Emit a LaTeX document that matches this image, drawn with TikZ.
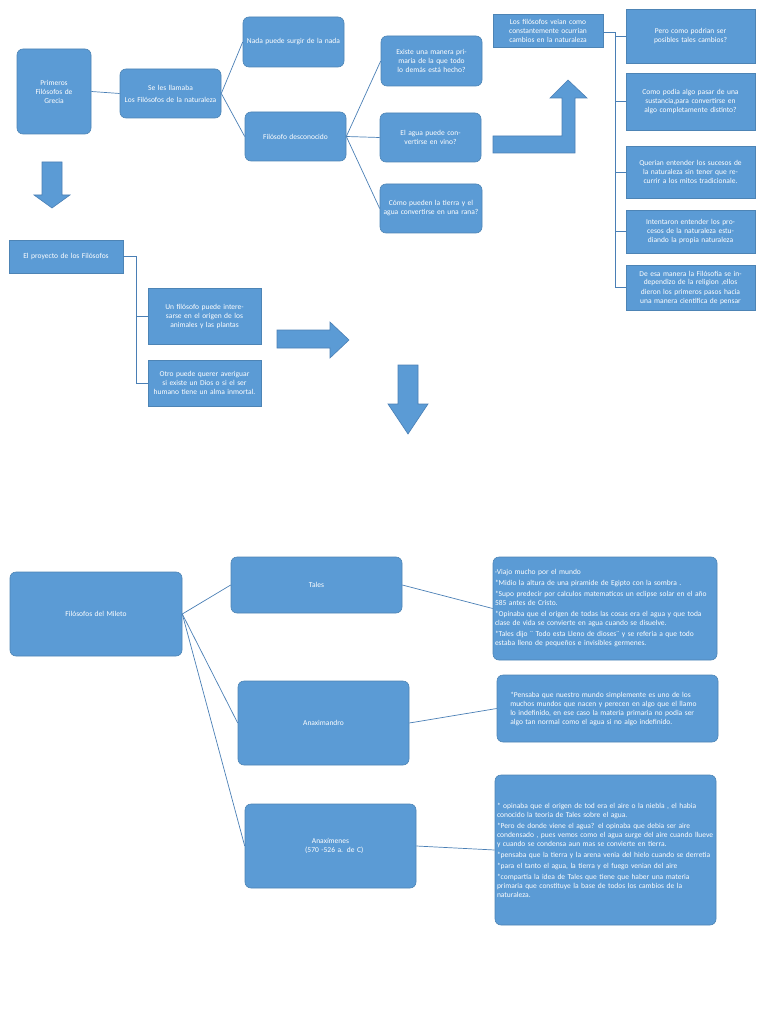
\documentclass[tikz,border=0pt]{standalone}
\usepackage{fontspec}
\setmainfont{Carlito}
\definecolor{bl}{HTML}{5B9BD5}
\definecolor{bd}{HTML}{4A7FB5}
\begin{document}
\begin{tikzpicture}[x=1pt,y=-1pt,
 box/.style={fill=bl,draw=bl!85!black,line width=0.6pt,text=white,align=center,inner sep=1pt,font=\fontsize{7.5}{9}\selectfont},
 rbox/.style={box,rounded corners=6pt},
 sq/.style={box,rounded corners=0pt},
 ln/.style={draw=bd,line width=0.7pt},
 arr/.style={fill=bl,draw=bd,line width=0.6pt}]
\useasboundingbox (0,0) rectangle (768,1024);
\newcommand{\bx}[7]{\node[#1,minimum width=#4-#2,minimum height=#5-#3,text width=#4-#2-4] (#6) at ({(#2+#4)/2},{(#3+#5)/2}) {#7};}
\bx{rbox}{17}{49}{91}{134}{pri}{Primeros\\Filósofos de\\Grecia}
\bx{rbox}{120}{69}{221}{118}{seles}{Se les llamaba\\[3pt]Los Filósofos de la naturaleza}
\bx{rbox}{243}{17}{344}{67}{nada}{Nada puede surgir de la nada\\[8pt]}
\bx{rbox}{245}{112}{346}{161}{fdesc}{Filósofo desconocido}
\bx{rbox}{381}{36}{482}{86}{exi}{Existe una manera primaria de la que todo lo demás está hecho?}
\bx{rbox}{380}{113}{481}{162}{agua}{El agua puede convertirse en vino?}
\bx{rbox}{380}{184}{482}{233}{como}{Cómo pueden la tierra y el agua convertirse en una rana?}
\bx{sq}{9}{240}{123}{273}{proy}{El proyecto de los Filósofos\\[6pt]}
\bx{sq}{148}{288}{261}{344}{un}{Un filósofo puede interesarse en el origen de los animales y las plantas}
\bx{sq}{148}{360}{261}{406}{otro}{Otro puede querer averiguar si existe un Dios o si el ser humano tiene un alma inmortal.}
\bx{sq}{493}{14}{603}{47}{ven}{Los filósofos veian como constantemente ocurrian cambios en la naturaleza}
\bx{sq}{626}{9}{755}{63}{r1}{Pero como podrian ser posibles tales cambios?}
\bx{sq}{626}{73}{755}{130}{r2}{Como podia algo pasar de una sustancia,para convertirse en algo completamente distinto?}
\bx{sq}{626}{146}{755}{198}{r3}{Querian entender los sucesos de la naturaleza sin tener que recurrir a los mitos tradicionale.}
\bx{sq}{626}{210}{755}{253}{r4}{Intentaron entender los procesos de la naturaleza estudiando la propia naturaleza}
\bx{sq}{626}{265}{755}{310}{r5}{De esa manera la Filósofia se independizo de la religion ,ellos dieron los primeros pasos hacia una manera cientifica de pensar}
% connectors
\draw[ln] (pri.east) -- (seles.west);
\draw[ln] (seles.east) -- (nada.west);
\draw[ln] (seles.east) -- (fdesc.west);
\draw[ln] (fdesc.east) -- (exi.west);
\draw[ln] (fdesc.east) -- (agua.west);
\draw[ln] (fdesc.east) -- (como.west);
\draw[ln] (proy.east) -- ++(13,0) |- (un.west);
\draw[ln] (proy.east) -- ++(13,0) |- (otro.west);
\foreach \r in {r1,r2,r3,r4,r5}{\draw[ln] (603,32) -- (615,32) |- (\r.west);}
% arrows
\draw[arr] (42,162) -- (62,162) -- (62,195) -- (70,195) -- (52,208) -- (34,195) -- (42,195) -- cycle;
\draw[arr] (277,330) -- (330,330) -- (330,322) -- (349,340) -- (330,358) -- (330,348) -- (277,348) -- cycle;
\draw[arr] (398,365) -- (418,365) -- (418,404) -- (428,404) -- (408,434) -- (388,404) -- (398,404) -- cycle;
\draw[arr] (493,136) -- (562,136) -- (562,98) -- (550,98) -- (568,80) -- (587,98) -- (575,98) -- (575,153) -- (493,153) -- cycle;
% bottom
\begin{scope}[every node/.append style={font=\fontsize{16}{19}\selectfont}]
\bx{rbox}{10}{572}{182}{656}{mil}{Filósofos del Mileto}
\bx{rbox}{231}{557}{402}{613}{tal}{Tales}
\bx{rbox}{238}{681}{409}{765}{anx}{Anaximandro}
\bx{rbox}{245}{804}{416}{888}{anm}{Anaxímenes\\\hspace*{1em}(570 -526 a. de C)}
\end{scope}
\begin{scope}[every node/.append style={font=\fontsize{6}{7.3}\selectfont,align=left,rounded corners=10pt}]
\bx{rbox}{493}{557}{717}{660}{ttal}{\raggedright ·Viajo mucho por el mundo\\[2pt]*Midio la altura de una piramide de Egipto con la sombra .\\[2pt]*Supo predecir por calculos matematicos un eclipse solar en el año 585 antes de Cristo.\\[2pt]*Opinaba que el origen de todas las cosas era el agua y que toda clase de vida se convierte en agua cuando se disuelve.\\[2pt]*Tales dijo ¨ Todo esta Lleno de dioses¨ y se referia a que todo estaba lleno de pequeños e invisibles germenes.\\[14pt]}
\bx{rbox}{497}{675}{718}{742}{tanx}{\raggedright\hspace*{1.5em}*Pensaba que nuestro mundo simplemente es uno de los\\\hspace*{1.5em}muchos mundos que nacen y perecen en algo que el llamo\\\hspace*{1.5em}lo indefinido, en ese caso la materia primaria no podia ser\\\hspace*{1.5em}algo tan normal como el agua si no algo indefinido.\\[10pt]}
\bx{rbox}{495}{775}{716}{925}{tanm}{\raggedright * opinaba que el origen de tod era el aire o la niebla , el habia conocido la teoria de Tales sobre el agua.\\[2pt]*Pero de donde viene el agua? el opinaba que debia ser aire condensado , pues vemos como el agua surge del aire cuando llueve y cuando se condensa aun mas se convierte en tierra.\\[2pt]*pensaba que la tierra y la arena venia del hielo cuando se derretia\\[2pt]*para el tanto el agua, la tierra y el fuego venian del aire\\[2pt]*compartia la idea de Tales que tiene que haber una materia primaria que constituye la base de todos los cambios de la naturaleza.\\[8pt]}
\end{scope}
\draw[ln] (mil.east) -- (tal.west);
\draw[ln] (mil.east) -- (anx.west);
\draw[ln] (mil.east) -- (anm.west);
\draw[ln] (tal.east) -- (ttal.west);
\draw[ln] (anx.east) -- (tanx.west);
\draw[ln] (anm.east) -- (tanm.west);
\end{tikzpicture}
\end{document}
